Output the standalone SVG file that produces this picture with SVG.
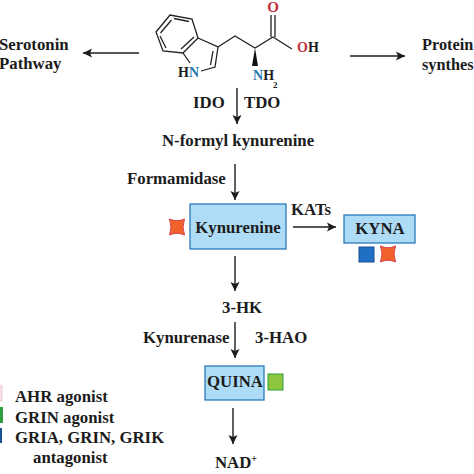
<svg xmlns="http://www.w3.org/2000/svg" width="474" height="474" viewBox="0 0 474 474">
<style>
text{font-family:"Liberation Serif","Times New Roman",serif;font-weight:bold;font-size:16.8px;fill:#1c1c1c}
.m{text-anchor:middle}
.box{fill:#aedcf6;stroke:#2a78b8;stroke-width:1.3}
.c{stroke:#1c1c1c;stroke-width:1.4;fill:none}
.b{stroke:#222;stroke-width:1.3;fill:none}
.star{fill:#f0622a;stroke:#d8404a;stroke-width:1}
</style>
<defs>
<marker id="a" markerUnits="userSpaceOnUse" markerWidth="10" markerHeight="10" refX="9" refY="5" orient="auto"><path d="M0 0.500L9 5L0 9.500L2 5Z" fill="#1c1c1c"/></marker>
<path id="st" d="M-7.500 -8Q0 -4.500 7.500 -8Q4.500 0 7.500 8Q0 4.500 -7.500 8Q-4.500 0 -7.500 -8Z"/>
</defs>
<g id="connectors">
<path class="c" marker-end="url(#a)" d="M139 53H83"/>
<path class="c" marker-end="url(#a)" d="M350 56H405"/>
<path class="c" marker-end="url(#a)" d="M237 88V124"/>
<path class="c" marker-end="url(#a)" d="M235 164V200"/>
<path class="c" marker-end="url(#a)" d="M293 227H336"/>
<path class="c" marker-end="url(#a)" d="M235 256V291"/>
<path class="c" marker-end="url(#a)" d="M235 322V358"/>
<path class="c" marker-end="url(#a)" d="M233 408V444"/>
</g>
<g id="tryptophan">
<path class="b" d="M156 32L170 15L192 19L198 38L183 53L163 51Z"/>
<path class="b" d="M160.500 33L171.500 20M174 18.500L189 21.500M194 37L181 49M166 48L160 36"/>
<path class="b" d="M198 38L218 47L215 67L201 71M213 51L210.500 65"/>
<path class="b" d="M183 53L190 63M218 47L235 36L255 48L273 37L292 49M271 37V15M275 37V15"/>
<path d="M255 48L252 66H258Z" fill="#111"/>
<text x="178" y="77" font-size="14" style="font-size:14px">H<tspan fill="#2a78b0" style="fill:#2a78b0">N</tspan></text>
<text x="253" y="80" style="font-size:14px"><tspan style="fill:#2a78b0">N</tspan>H</text>
<text x="273" y="88" style="font-size:9px">2</text>
<text x="273" y="12" class="m" style="fill:#c2303c;font-size:15px">O</text>
<text x="297" y="52" style="font-size:14px"><tspan style="fill:#c2303c">O</tspan>H</text>
</g>
<g id="serotonin"><text x="-1" y="50">Serotonin</text><text x="-1" y="69">Pathway</text></g>
<g id="protein"><text x="422" y="50" style="font-size:16.300px">Protein</text><text x="422" y="70" style="font-size:16.300px">synthes</text></g>
<g id="ido"><text x="193" y="108">IDO</text></g>
<g id="tdo"><text x="244" y="108">TDO</text></g>
<g id="nfk"><text x="162" y="146">N-formyl kynurenine</text></g>
<g id="formamidase"><text x="127" y="184">Formamidase</text></g>
<g id="kynurenine">
<rect class="box" x="190" y="204" width="96" height="45"/>
<text x="238" y="233" class="m">Kynurenine</text>
<use href="#st" class="star" x="177" y="227"/>
</g>
<g id="kats"><text x="291" y="215">KATs</text></g>
<g id="kyna">
<rect class="box" x="344" y="215" width="71" height="28"/>
<text x="380" y="234" class="m">KYNA</text>
<rect x="359" y="247" width="15" height="15" fill="#1f6fc4" stroke="#1a4f94"/>
<use href="#st" class="star" x="388" y="254"/>
</g>
<g id="hk"><text x="222" y="313">3-HK</text></g>
<g id="kynurenase"><text x="143" y="343">Kynurenase</text></g>
<g id="hao"><text x="255" y="343">3-HAO</text></g>
<g id="quina">
<rect class="box" x="205" y="366" width="59" height="34"/>
<text x="235" y="387" class="m">QUINA</text>
<rect x="268" y="374" width="15" height="16" fill="#8cc63f" stroke="#2e9e3e"/>
</g>
<g id="nad"><text x="215" y="468">NAD<tspan style="font-size:10px" dy="-6">+</tspan></text></g>
<g id="legend">
<rect x="-6" y="386" width="8" height="15" fill="#f8e0e4" stroke="#f0c8cc"/>
<rect x="-6" y="407" width="9" height="16" fill="#2e9e3e"/>
<rect x="-6" y="428" width="8" height="15" fill="#1a4f94"/>
<text x="15" y="402">AHR agonist</text>
<text x="15" y="423">GRIN agonist</text>
<text x="15" y="443">GRIA, GRIN, GRIK</text>
<text x="33" y="463">antagonist</text>
</g>
</svg>
